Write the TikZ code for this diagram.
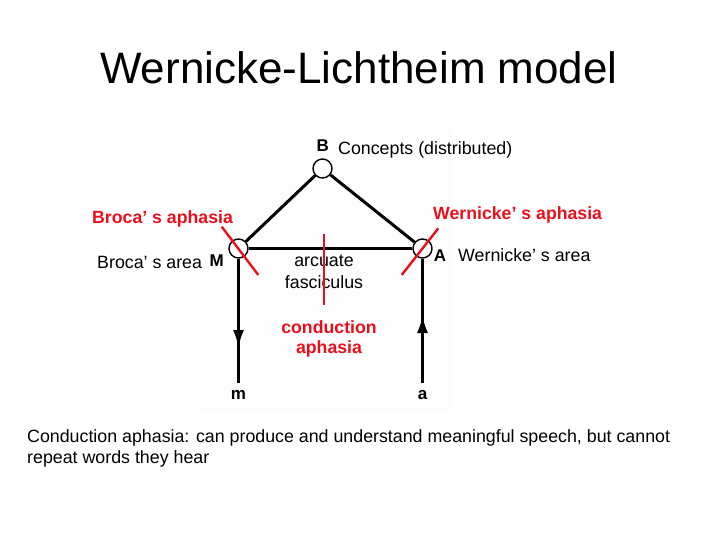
\documentclass[tikz,border=0pt]{standalone}
\usepackage{fontspec}
\setmainfont{Liberation Sans}
\usetikzlibrary{arrows.meta}
\definecolor{aphasiared}{RGB}{232,16,28}
\begin{document}
\begin{tikzpicture}[x=10pt,y=10pt]
\tikzstyle{every node}+=[inner sep=0pt]
\tikzstyle{centre}=[circle,draw=black,line width=1.4pt,fill=white,minimum size=19pt]
\tikzstyle{tract}=[line width=3pt]
\tikzstyle{tip}=[line width=3pt,-{Latex[length=18pt,width=11pt]}]
\tikzstyle{lesion}=[draw=aphasiared,line width=2.4pt]
\tikzstyle{letter}=[font=\fontsize{17}{17}\selectfont\bfseries]
\tikzstyle{txt}=[font=\fontsize{17.8}{21}\selectfont]
\tikzstyle{redtxt}=[font=\fontsize{17.7}{21}\selectfont\bfseries,text=aphasiared]
\useasboundingbox (0,0) rectangle (72,-54);
% faint background of the model figure
\fill [black!0.6] (20,-12.8) rectangle (45.2,-41.2);
\node (title) [font=\fontsize{44}{44}\selectfont,anchor=base] at (35.9,-8.35) {Wernicke-Lichtheim model};
% centres
\node [centre] (B) at (32.25,-16.85) {};
\node [centre] (M) at (23.85,-24.85) {};
\node [centre] (A) at (42.25,-24.85) {};
\coordinate (mtip) at (23.85,-34.8);
\coordinate (mend) at (23.85,-38.3);
\coordinate (atip) at (42.25,-31.5);
\coordinate (aend) at (42.25,-38.3);
\draw [tract] (B) -- (M);
\draw [tract] (B) -- (A);
\draw [tract] (M) -- (A);
\draw [tract] (M) -- (mend);
\draw [tip] (M) -- (mtip);
\draw [tract] (aend) -- (A);
\draw [tip] (aend) -- (atip);
% letters
\node [letter,anchor=base] (Bl) at (32.27,-15.2) {B};
\node [letter,anchor=base] (Ml) at (21.67,-26.6) {M};
\node [letter,anchor=base] (Al) at (44.0,-26.2) {A};
\node [letter,anchor=base] (ml) at (23.85,-39.9) {m};
\node [letter,anchor=base] (al) at (42.27,-39.9) {a};
% lesions
\coordinate (broca1) at (22.17,-22.67);
\coordinate (broca2) at (25.83,-27.5);
\coordinate (wern1) at (43.83,-22.83);
\coordinate (wern2) at (40.17,-27.5);
\coordinate (cond1) at (32.4,-23.4);
\coordinate (cond2) at (32.4,-30.5);
\draw [lesion] (broca1) -- (broca2);
\draw [lesion] (wern1) -- (wern2);
% texts
\node [txt,anchor=base west] (concepts) at (33.8,-15.45) {Concepts (distributed)};
\node [redtxt,anchor=base west] (brocaaph) at (9.2,-22.4) {Broca’ s aphasia};
\node [txt,anchor=base west] (brocaarea) at (9.7,-26.8) {Broca’ s area};
\node [redtxt,anchor=base west] (wernaph) at (43.3,-21.9) {Wernicke’ s aphasia};
\node [txt,anchor=base west] (wernarea) at (45.8,-26.2) {Wernicke’ s area};
\node [txt,anchor=base] (arcuate) at (32.4,-26.67) {arcuate};
\node [txt,anchor=base] (fasc) at (32.4,-28.8) {fasciculus};
\draw [lesion] (cond1) -- (cond2);
\node [redtxt,anchor=base] (cond) at (32.9,-33.33) {conduction};
\node [redtxt,anchor=base] (condaph) at (32.9,-35.3) {aphasia};
% note
\node [txt,anchor=base west] (note1) at (2.7,-44.2) {Conduction aphasia: can produce and understand meaningful speech, but cannot};
\node [txt,anchor=base west] (note2) at (2.7,-46.35) {repeat words they hear};
\end{tikzpicture}
\end{document}
